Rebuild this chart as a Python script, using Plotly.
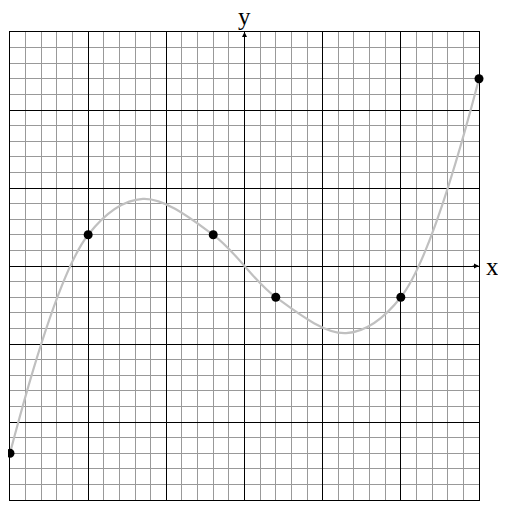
import plotly.graph_objects as go

# marked points
px = [-3, -2, -0.4, 0.4, 2, 3]
py = [-2.4, 0.4, 0.4, -0.4, -0.4, 2.4]

# curve guide points (points + turning points)
cx = [-3, -2, -1.3, -0.4, 0.4, 1.3, 2, 3]
cy = [-2.4, 0.4, 0.86, 0.4, -0.4, -0.86, -0.4, 2.4]

fig = go.Figure()
fig.add_trace(go.Scatter(x=cx, y=cy, mode="lines", line=dict(color="#c0c0c0", width=2.2, shape="spline", smoothing=1.0),
                         hoverinfo="skip"))
fig.add_trace(go.Scatter(x=px, y=py, mode="markers", marker=dict(color="black", size=9), cliponaxis=False))

ax = dict(range=[-3, 3], dtick=1, tick0=-3, showticklabels=False, ticks="",
          gridcolor="black", gridwidth=1, zeroline=False,
          showline=True, linecolor="black", linewidth=1, mirror=True,
          minor=dict(dtick=0.2, gridcolor="#999999", gridwidth=0.6, showgrid=True))
fig.update_xaxes(**ax)
fig.update_yaxes(**ax)

fig.add_annotation(x=0, y=3, ax=0, ay=2.9, xref="x", yref="y", axref="x", ayref="y",
                   showarrow=True, arrowhead=2, arrowsize=1, arrowwidth=1, arrowcolor="black", text="")
fig.add_annotation(x=3, y=0, ax=2.9, ay=0, xref="x", yref="y", axref="x", ayref="y",
                   showarrow=True, arrowhead=2, arrowsize=1, arrowwidth=1, arrowcolor="black", text="")
fig.add_annotation(x=0, y=3, xref="x", yref="y", text="y", showarrow=False, yanchor="bottom",
                   yshift=0, font=dict(family="Liberation Serif", size=25, color="black"))
fig.add_annotation(x=3, y=0, xref="x", yref="y", text="x", showarrow=False, xanchor="left",
                   xshift=5, font=dict(family="Liberation Serif", size=25, color="black"))

fig.update_layout(width=498, height=498, showlegend=False,
                  margin=dict(l=2, r=27, t=24, b=6),
                  plot_bgcolor="white", paper_bgcolor="white")
fig.write_html("out.html")
